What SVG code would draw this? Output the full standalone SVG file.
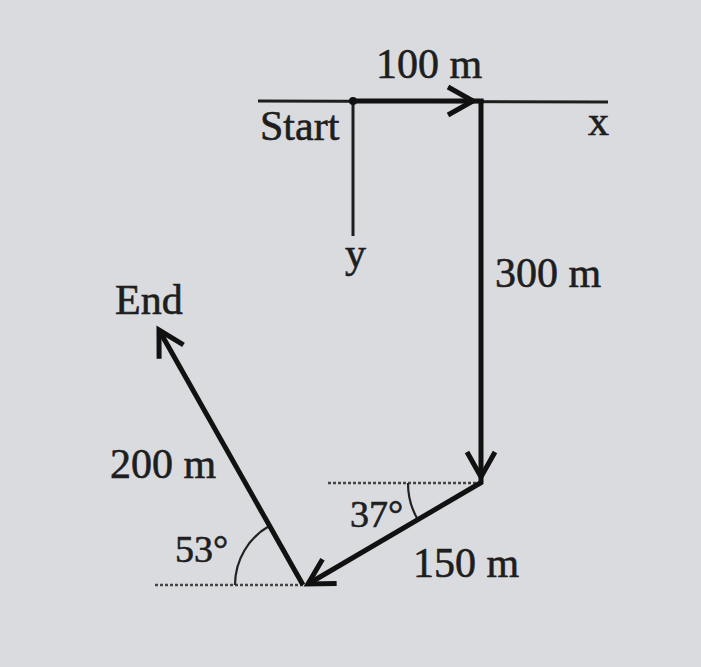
<svg xmlns="http://www.w3.org/2000/svg" width="701" height="667" viewBox="0 0 701 667">
<style>
.bg{fill:#d9dbde}
.t{font-family:"Liberation Serif","Times New Roman",serif;font-size:42px;fill:#1e1e1e;stroke:#1e1e1e;stroke-width:0.6}
.ang{font-size:38px}
.axis{stroke:#1e1e1e;stroke-width:3;fill:none}
.vec{stroke:#111;stroke-width:5;fill:none}
.dot{stroke:#444;stroke-width:2.5;stroke-dasharray:3 2;fill:none}
.arc{stroke:#222;stroke-width:2.2;fill:none}
</style>
<defs>
<marker id="ah" markerUnits="userSpaceOnUse" markerWidth="60" markerHeight="60" refX="0" refY="0" orient="auto" overflow="visible">
<path d="M-25,-14 L0,0 L-25,14" stroke="#111" stroke-width="5" fill="none" stroke-linejoin="miter"/>
</marker>
</defs>
<rect class="bg" x="0" y="0" width="701" height="667"/>
<g id="axes">
<line class="axis" x1="258" y1="101" x2="608" y2="102"/>
<line class="axis" x1="353" y1="101" x2="353" y2="236"/>
<text class="t" x="588" y="135" font-size="38">x</text>
<text class="t" x="345" y="267" font-size="38">y</text>
</g>
<g id="start">
<circle cx="353" cy="101" r="4" fill="#111"/>
<text class="t" x="260" y="140">Start</text>
</g>
<g id="end">
<text class="t" x="115" y="314">End</text>
</g>
<g id="guides">
<line class="dot" x1="328" y1="483" x2="478" y2="483"/>
<line class="dot" x1="155" y1="585" x2="305" y2="585"/>
<path class="arc" d="M408 483 A73 73 0 0 0 418 520"/>
<path class="arc" d="M235 585 A68 68 0 0 1 269.6 525.8"/>
</g>
<g id="connectors">
<line class="vec" x1="353" y1="101" x2="473" y2="101" marker-end="url(#ah)"/>
<line class="vec" x1="471" y1="101" x2="483.5" y2="101"/>
<line class="vec" x1="481" y1="99" x2="481" y2="477" marker-end="url(#ah)"/>
<line class="vec" x1="481" y1="476" x2="481" y2="484"/>
<line class="vec" x1="482" y1="482" x2="308" y2="584" marker-end="url(#ah)"/>
<line class="vec" x1="303" y1="585" x2="159" y2="330" marker-end="url(#ah)"/>
</g>
<g id="labels">
<text class="t" x="376" y="78">100 m</text>
<text class="t" x="495" y="287">300 m</text>
<text class="t" x="413" y="577">150 m</text>
<text class="t" x="110" y="478">200 m</text>
<text class="t ang" x="350" y="527">37°</text>
<text class="t ang" x="175" y="562">53°</text>
</g>
</svg>
